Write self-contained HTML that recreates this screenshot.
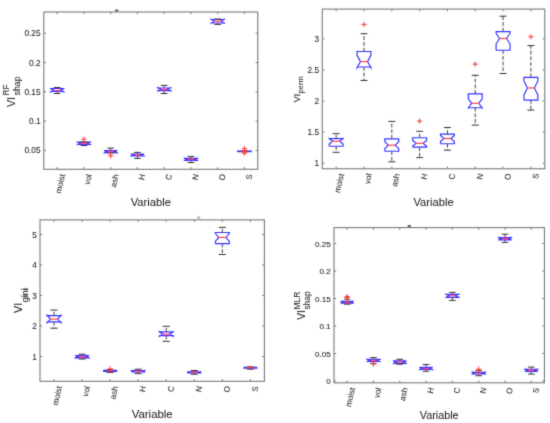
<!DOCTYPE html>
<html><head><meta charset="utf-8"><title>Variable importance boxplots</title>
<style>
html,body{margin:0;padding:0;background:#fff;}
body{width:550px;height:423px;overflow:hidden;}
svg{display:block;}
text{font-family:'Liberation Sans', Arial, sans-serif;fill:#1e1e1e;stroke:#1e1e1e;stroke-width:0.05px;}
.ax{fill:none;stroke:#7a7a7a;stroke-width:1.1;}
.tk{fill:none;stroke:#7a7a7a;stroke-width:1;}
.bx{fill:none;stroke:#3030ff;stroke-width:1.15;stroke-linejoin:miter;}
.md{stroke:#ff4040;stroke-width:1.2;}
.wh{stroke:#3a3a3a;stroke-width:0.95;stroke-dasharray:3.8 1.9;}
.cap{stroke:#333;stroke-width:1;}
.ol{fill:none;stroke:#ff3030;stroke-width:1;}
</style></head>
<body>
<svg width="550" height="423" viewBox="0 0 550 423">
<defs><filter id="bl" filterUnits="userSpaceOnUse" x="0" y="0" width="550" height="423"><feConvolveMatrix order="3" kernelMatrix="0.025 0.085 0.025 0.085 0.56 0.085 0.025 0.085 0.025" edgeMode="duplicate"/></filter></defs>
<rect width="550" height="423" fill="#fff"/>
<g filter="url(#bl)">
<line x1="57.17" y1="88.5" x2="57.17" y2="87.5" class="wh"/>
<line x1="57.17" y1="91.5" x2="57.17" y2="93.5" class="wh"/>
<polyline points="50.49,91.5 50.49,92 53.83,90.3 50.49,88.6 50.49,88.5 63.86,88.5 63.86,88.6 60.52,90.3 63.86,92 63.86,91.5 50.49,91.5" class="bx"/>
<line x1="53.83" y1="87.5" x2="60.52" y2="87.5" class="cap"/>
<line x1="53.83" y1="93.5" x2="60.52" y2="93.5" class="cap"/>
<line x1="53.83" y1="90.3" x2="60.52" y2="90.3" class="md"/>
<line x1="83.92" y1="144.5" x2="83.92" y2="145.5" class="wh"/>
<polyline points="77.24,144.5 77.24,144.6 80.58,143.3 77.24,142 77.24,142.1 90.61,142.1 90.61,142 87.27,143.3 90.61,144.6 90.61,144.5 77.24,144.5" class="bx"/>
<line x1="80.58" y1="142" x2="87.27" y2="142" class="cap"/>
<line x1="80.58" y1="145.5" x2="87.27" y2="145.5" class="cap"/>
<line x1="80.58" y1="143.3" x2="87.27" y2="143.3" class="md"/>
<path d="M81.33 139.2h5.2M83.92 136.6v5.2" class="ol"/>
<line x1="110.67" y1="150.5" x2="110.67" y2="148.1" class="wh"/>
<line x1="110.67" y1="152.7" x2="110.67" y2="153" class="wh"/>
<polyline points="103.99,152.7 103.99,152.9 107.33,151.7 103.99,150.5 103.99,150.5 117.36,150.5 117.36,150.5 114.02,151.7 117.36,152.9 117.36,152.7 103.99,152.7" class="bx"/>
<line x1="107.33" y1="148.1" x2="114.02" y2="148.1" class="cap"/>
<line x1="107.33" y1="153" x2="114.02" y2="153" class="cap"/>
<line x1="107.33" y1="151.7" x2="114.02" y2="151.7" class="md"/>
<path d="M108.08 155.7h5.2M110.67 153.1v5.2" class="ol"/>
<line x1="137.43" y1="154" x2="137.43" y2="152.4" class="wh"/>
<line x1="137.43" y1="155.9" x2="137.43" y2="158.4" class="wh"/>
<polyline points="130.74,155.9 130.74,156 134.08,155 130.74,154 130.74,154 144.11,154 144.11,154 140.77,155 144.11,156 144.11,155.9 130.74,155.9" class="bx"/>
<line x1="134.08" y1="152.4" x2="140.77" y2="152.4" class="cap"/>
<line x1="134.08" y1="158.4" x2="140.77" y2="158.4" class="cap"/>
<line x1="134.08" y1="155" x2="140.77" y2="155" class="md"/>
<line x1="164.18" y1="88" x2="164.18" y2="85.4" class="wh"/>
<line x1="164.18" y1="90.6" x2="164.18" y2="93.5" class="wh"/>
<polyline points="157.49,90.6 157.49,91.1 160.83,89.3 157.49,87.5 157.49,88 170.86,88 170.86,87.5 167.52,89.3 170.86,91.1 170.86,90.6 157.49,90.6" class="bx"/>
<line x1="160.83" y1="85.4" x2="167.52" y2="85.4" class="cap"/>
<line x1="160.83" y1="93.5" x2="167.52" y2="93.5" class="cap"/>
<line x1="160.83" y1="89.3" x2="167.52" y2="89.3" class="md"/>
<line x1="190.93" y1="158.4" x2="190.93" y2="156.4" class="wh"/>
<line x1="190.93" y1="160.4" x2="190.93" y2="162.5" class="wh"/>
<polyline points="184.24,160.4 184.24,160.5 187.58,159.4 184.24,158.3 184.24,158.4 197.61,158.4 197.61,158.3 194.27,159.4 197.61,160.5 197.61,160.4 184.24,160.4" class="bx"/>
<line x1="187.58" y1="156.4" x2="194.27" y2="156.4" class="cap"/>
<line x1="187.58" y1="162.5" x2="194.27" y2="162.5" class="cap"/>
<line x1="187.58" y1="159.4" x2="194.27" y2="159.4" class="md"/>
<line x1="217.68" y1="19.5" x2="217.68" y2="19" class="wh"/>
<line x1="217.68" y1="23" x2="217.68" y2="24.4" class="wh"/>
<polyline points="210.99,23 210.99,23.2 214.33,21.2 210.99,19.2 210.99,19.5 224.36,19.5 224.36,19.2 221.02,21.2 224.36,23.2 224.36,23 210.99,23" class="bx"/>
<line x1="214.33" y1="19" x2="221.02" y2="19" class="cap"/>
<line x1="214.33" y1="24.4" x2="221.02" y2="24.4" class="cap"/>
<line x1="214.33" y1="21.2" x2="221.02" y2="21.2" class="md"/>
<polyline points="237.74,151.6 237.74,151.7 241.08,151.3 237.74,150.9 237.74,151 251.11,151 251.11,150.9 247.77,151.3 251.11,151.7 251.11,151.6 237.74,151.6" class="bx"/>
<line x1="241.08" y1="150.8" x2="247.77" y2="150.8" class="cap"/>
<line x1="241.08" y1="151.8" x2="247.77" y2="151.8" class="cap"/>
<line x1="241.08" y1="151.3" x2="247.77" y2="151.3" class="md"/>
<path d="M241.83 148.6h5.2M244.43 146v5.2" class="ol"/>
<path d="M241.83 153.2h5.2M244.43 150.6v5.2" class="ol"/>
<rect x="43.8" y="12" width="214" height="157.3" class="ax"/>
<path d="M57.17 169.3v-2.2M57.17 12v2.2M83.92 169.3v-2.2M83.92 12v2.2M110.67 169.3v-2.2M110.67 12v2.2M137.43 169.3v-2.2M137.43 12v2.2M164.18 169.3v-2.2M164.18 12v2.2M190.93 169.3v-2.2M190.93 12v2.2M217.68 169.3v-2.2M217.68 12v2.2M244.43 169.3v-2.2M244.43 12v2.2M43.8 150.4h2.2M257.8 150.4h-2.2M43.8 121.1h2.2M257.8 121.1h-2.2M43.8 91.8h2.2M257.8 91.8h-2.2M43.8 62.5h2.2M257.8 62.5h-2.2M43.8 33.2h2.2M257.8 33.2h-2.2" class="tk"/>
<text x="40.6" y="153.4" font-size="8.3" text-anchor="end">0.05</text>
<text x="40.6" y="124.1" font-size="8.3" text-anchor="end">0.1</text>
<text x="40.6" y="94.8" font-size="8.3" text-anchor="end">0.15</text>
<text x="40.6" y="65.5" font-size="8.3" text-anchor="end">0.2</text>
<text x="40.6" y="36.2" font-size="8.3" text-anchor="end">0.25</text>
<text transform="translate(65.17 174.9) rotate(-77)" font-size="8.1" text-anchor="end" dominant-baseline="auto">moist</text>
<text transform="translate(91.92 174.9) rotate(-77)" font-size="8.1" text-anchor="end" dominant-baseline="auto">vol</text>
<text transform="translate(118.67 174.9) rotate(-77)" font-size="8.1" text-anchor="end" dominant-baseline="auto">ash</text>
<text transform="translate(145.43 174.9) rotate(-77)" font-size="8.1" text-anchor="end" dominant-baseline="auto">H</text>
<text transform="translate(172.18 174.9) rotate(-77)" font-size="8.1" text-anchor="end" dominant-baseline="auto">C</text>
<text transform="translate(198.93 174.9) rotate(-77)" font-size="8.1" text-anchor="end" dominant-baseline="auto">N</text>
<text transform="translate(225.68 174.9) rotate(-77)" font-size="8.1" text-anchor="end" dominant-baseline="auto">O</text>
<text transform="translate(252.43 174.9) rotate(-77)" font-size="8.1" text-anchor="end" dominant-baseline="auto">S</text>
<text x="150.8" y="205.8" font-size="11.2" text-anchor="middle">Variable</text>
<text transform="rotate(-90)" x="-107" y="15.3" font-size="10.5">VI</text>
<text transform="rotate(-90)" x="-95.6" y="9.4" font-size="8.3">RF</text>
<text transform="rotate(-90)" x="-95.5" y="20.3" font-size="8.8">shap</text>
<rect x="115.1" y="9.6" width="3.2" height="1.8" fill="#555"/>
<line x1="336.16" y1="138.6" x2="336.16" y2="133.7" class="wh"/>
<line x1="336.16" y1="146.2" x2="336.16" y2="152.3" class="wh"/>
<polyline points="329.2,146.2 329.2,144.1 332.68,141.3 329.2,138.5 329.2,138.6 343.11,138.6 343.11,138.5 339.64,141.3 343.11,144.1 343.11,146.2 329.2,146.2" class="bx"/>
<line x1="332.68" y1="133.7" x2="339.64" y2="133.7" class="cap"/>
<line x1="332.68" y1="152.3" x2="339.64" y2="152.3" class="cap"/>
<line x1="332.68" y1="141.3" x2="339.64" y2="141.3" class="md"/>
<line x1="363.98" y1="51.5" x2="363.98" y2="33.7" class="wh"/>
<line x1="363.98" y1="67" x2="363.98" y2="80.5" class="wh"/>
<polyline points="357.02,67 357.02,67.8 360.5,61.6 357.02,55.4 357.02,51.5 370.93,51.5 370.93,55.4 367.46,61.6 370.93,67.8 370.93,67 357.02,67" class="bx"/>
<line x1="360.5" y1="33.7" x2="367.46" y2="33.7" class="cap"/>
<line x1="360.5" y1="80.5" x2="367.46" y2="80.5" class="cap"/>
<line x1="360.5" y1="61.6" x2="367.46" y2="61.6" class="md"/>
<path d="M361.38 24.4h5.2M363.98 21.8v5.2" class="ol"/>
<line x1="391.8" y1="138.8" x2="391.8" y2="121.4" class="wh"/>
<line x1="391.8" y1="151.2" x2="391.8" y2="161.8" class="wh"/>
<polyline points="384.84,151.2 384.84,148.7 388.32,145.2 384.84,141.7 384.84,138.8 398.75,138.8 398.75,141.7 395.27,145.2 398.75,148.7 398.75,151.2 384.84,151.2" class="bx"/>
<line x1="388.32" y1="121.4" x2="395.27" y2="121.4" class="cap"/>
<line x1="388.32" y1="161.8" x2="395.27" y2="161.8" class="cap"/>
<line x1="388.32" y1="145.2" x2="395.27" y2="145.2" class="md"/>
<line x1="419.62" y1="137.7" x2="419.62" y2="131.3" class="wh"/>
<line x1="419.62" y1="147.1" x2="419.62" y2="157.6" class="wh"/>
<polyline points="412.66,147.1 412.66,146.2 416.14,143.3 412.66,140.4 412.66,137.7 426.57,137.7 426.57,140.4 423.09,143.3 426.57,146.2 426.57,147.1 412.66,147.1" class="bx"/>
<line x1="416.14" y1="131.3" x2="423.09" y2="131.3" class="cap"/>
<line x1="416.14" y1="157.6" x2="423.09" y2="157.6" class="cap"/>
<line x1="416.14" y1="143.3" x2="423.09" y2="143.3" class="md"/>
<path d="M417.02 121.1h5.2M419.62 118.5v5.2" class="ol"/>
<line x1="447.43" y1="134.1" x2="447.43" y2="127.5" class="wh"/>
<line x1="447.43" y1="143.7" x2="447.43" y2="150.2" class="wh"/>
<polyline points="440.48,143.7 440.48,141.5 443.96,138.5 440.48,135.5 440.48,134.1 454.39,134.1 454.39,135.5 450.91,138.5 454.39,141.5 454.39,143.7 440.48,143.7" class="bx"/>
<line x1="443.96" y1="127.5" x2="450.91" y2="127.5" class="cap"/>
<line x1="443.96" y1="150.2" x2="450.91" y2="150.2" class="cap"/>
<line x1="443.96" y1="138.5" x2="450.91" y2="138.5" class="md"/>
<line x1="475.25" y1="93.9" x2="475.25" y2="75.3" class="wh"/>
<line x1="475.25" y1="107.7" x2="475.25" y2="125.1" class="wh"/>
<polyline points="468.3,107.7 468.3,107.8 471.78,103.3 468.3,98.8 468.3,93.9 482.21,93.9 482.21,98.8 478.73,103.3 482.21,107.8 482.21,107.7 468.3,107.7" class="bx"/>
<line x1="471.78" y1="75.3" x2="478.73" y2="75.3" class="cap"/>
<line x1="471.78" y1="125.1" x2="478.73" y2="125.1" class="cap"/>
<line x1="471.78" y1="103.3" x2="478.73" y2="103.3" class="md"/>
<path d="M472.65 64.1h5.2M475.25 61.5v5.2" class="ol"/>
<line x1="503.07" y1="31.6" x2="503.07" y2="16.2" class="wh"/>
<line x1="503.07" y1="50.2" x2="503.07" y2="73.5" class="wh"/>
<polyline points="496.12,50.2 496.12,43.8 499.59,38.5 496.12,33.2 496.12,31.6 510.03,31.6 510.03,33.2 506.55,38.5 510.03,43.8 510.03,50.2 496.12,50.2" class="bx"/>
<line x1="499.59" y1="16.2" x2="506.55" y2="16.2" class="cap"/>
<line x1="499.59" y1="73.5" x2="506.55" y2="73.5" class="cap"/>
<line x1="499.59" y1="38.5" x2="506.55" y2="38.5" class="md"/>
<line x1="530.89" y1="77.3" x2="530.89" y2="45.6" class="wh"/>
<line x1="530.89" y1="100.1" x2="530.89" y2="110.1" class="wh"/>
<polyline points="523.94,100.1 523.94,94.9 527.41,87.9 523.94,80.9 523.94,77.3 537.85,77.3 537.85,80.9 534.37,87.9 537.85,94.9 537.85,100.1 523.94,100.1" class="bx"/>
<line x1="527.41" y1="45.6" x2="534.37" y2="45.6" class="cap"/>
<line x1="527.41" y1="110.1" x2="534.37" y2="110.1" class="cap"/>
<line x1="527.41" y1="87.9" x2="534.37" y2="87.9" class="md"/>
<path d="M528.29 36.8h5.2M530.89 34.2v5.2" class="ol"/>
<rect x="322.25" y="9.1" width="222.55" height="159.65" class="ax"/>
<path d="M336.16 168.75v-2.2M336.16 9.1v2.2M363.98 168.75v-2.2M363.98 9.1v2.2M391.8 168.75v-2.2M391.8 9.1v2.2M419.62 168.75v-2.2M419.62 9.1v2.2M447.43 168.75v-2.2M447.43 9.1v2.2M475.25 168.75v-2.2M475.25 9.1v2.2M503.07 168.75v-2.2M503.07 9.1v2.2M530.89 168.75v-2.2M530.89 9.1v2.2M322.25 163.3h2.2M544.8 163.3h-2.2M322.25 132.2h2.2M544.8 132.2h-2.2M322.25 101.1h2.2M544.8 101.1h-2.2M322.25 70h2.2M544.8 70h-2.2M322.25 38.9h2.2M544.8 38.9h-2.2" class="tk"/>
<text x="319.05" y="166.3" font-size="8.3" text-anchor="end">1</text>
<text x="319.05" y="135.2" font-size="8.3" text-anchor="end">1.5</text>
<text x="319.05" y="104.1" font-size="8.3" text-anchor="end">2</text>
<text x="319.05" y="73" font-size="8.3" text-anchor="end">2.5</text>
<text x="319.05" y="41.9" font-size="8.3" text-anchor="end">3</text>
<text transform="translate(344.16 174.35) rotate(-77)" font-size="8.1" text-anchor="end" dominant-baseline="auto">moist</text>
<text transform="translate(371.98 174.35) rotate(-77)" font-size="8.1" text-anchor="end" dominant-baseline="auto">vol</text>
<text transform="translate(399.8 174.35) rotate(-77)" font-size="8.1" text-anchor="end" dominant-baseline="auto">ash</text>
<text transform="translate(427.62 174.35) rotate(-77)" font-size="8.1" text-anchor="end" dominant-baseline="auto">H</text>
<text transform="translate(455.43 174.35) rotate(-77)" font-size="8.1" text-anchor="end" dominant-baseline="auto">C</text>
<text transform="translate(483.25 174.35) rotate(-77)" font-size="8.1" text-anchor="end" dominant-baseline="auto">N</text>
<text transform="translate(511.07 174.35) rotate(-77)" font-size="8.1" text-anchor="end" dominant-baseline="auto">O</text>
<text transform="translate(538.89 174.35) rotate(-77)" font-size="8.1" text-anchor="end" dominant-baseline="auto">S</text>
<text x="433.52" y="205.8" font-size="11.2" text-anchor="middle">Variable</text>
<text transform="rotate(-90)" x="-102.4" y="299.7" font-size="9.3">VI</text>
<text transform="rotate(-90)" x="-93.4" y="303.3" font-size="7.5">perm</text>
<line x1="54.02" y1="315.6" x2="54.02" y2="310.1" class="wh"/>
<line x1="54.02" y1="321.8" x2="54.02" y2="328.2" class="wh"/>
<polyline points="47.01,321.8 47.01,322.9 50.52,319.1 47.01,315.3 47.01,315.6 61.04,315.6 61.04,315.3 57.53,319.1 61.04,322.9 61.04,321.8 47.01,321.8" class="bx"/>
<line x1="50.52" y1="310.1" x2="57.53" y2="310.1" class="cap"/>
<line x1="50.52" y1="328.2" x2="57.53" y2="328.2" class="cap"/>
<line x1="50.52" y1="319.1" x2="57.53" y2="319.1" class="md"/>
<line x1="82.07" y1="355.5" x2="82.07" y2="354.2" class="wh"/>
<line x1="82.07" y1="357.8" x2="82.07" y2="359" class="wh"/>
<polyline points="75.06,357.8 75.06,357.9 78.57,356.7 75.06,355.5 75.06,355.5 89.09,355.5 89.09,355.5 85.58,356.7 89.09,357.9 89.09,357.8 75.06,357.8" class="bx"/>
<line x1="78.57" y1="354.2" x2="85.58" y2="354.2" class="cap"/>
<line x1="78.57" y1="359" x2="85.58" y2="359" class="cap"/>
<line x1="78.57" y1="356.7" x2="85.58" y2="356.7" class="md"/>
<line x1="110.12" y1="370.3" x2="110.12" y2="369.8" class="wh"/>
<line x1="110.12" y1="371.3" x2="110.12" y2="372.4" class="wh"/>
<polyline points="103.11,371.3 103.11,371.3 106.62,370.8 103.11,370.3 103.11,370.3 117.14,370.3 117.14,370.3 113.63,370.8 117.14,371.3 117.14,371.3 103.11,371.3" class="bx"/>
<line x1="106.62" y1="369.8" x2="113.63" y2="369.8" class="cap"/>
<line x1="106.62" y1="372.4" x2="113.63" y2="372.4" class="cap"/>
<line x1="106.62" y1="370.8" x2="113.63" y2="370.8" class="md"/>
<path d="M107.53 368.9h5.2M110.12 366.3v5.2" class="ol"/>
<line x1="138.17" y1="370.5" x2="138.17" y2="369.2" class="wh"/>
<line x1="138.17" y1="372" x2="138.17" y2="373.6" class="wh"/>
<polyline points="131.16,372 131.16,372 134.67,371.3 131.16,370.6 131.16,370.5 145.19,370.5 145.19,370.6 141.68,371.3 145.19,372 145.19,372 131.16,372" class="bx"/>
<line x1="134.67" y1="369.2" x2="141.68" y2="369.2" class="cap"/>
<line x1="134.67" y1="373.6" x2="141.68" y2="373.6" class="cap"/>
<line x1="134.67" y1="371.3" x2="141.68" y2="371.3" class="md"/>
<line x1="166.22" y1="331.8" x2="166.22" y2="326.3" class="wh"/>
<line x1="166.22" y1="335.6" x2="166.22" y2="341.3" class="wh"/>
<polyline points="159.21,335.6 159.21,336.5 162.72,334.1 159.21,331.7 159.21,331.8 173.24,331.8 173.24,331.7 169.73,334.1 173.24,336.5 173.24,335.6 159.21,335.6" class="bx"/>
<line x1="162.72" y1="326.3" x2="169.73" y2="326.3" class="cap"/>
<line x1="162.72" y1="341.3" x2="169.73" y2="341.3" class="cap"/>
<line x1="162.72" y1="334.1" x2="169.73" y2="334.1" class="md"/>
<line x1="194.27" y1="371.8" x2="194.27" y2="370.5" class="wh"/>
<line x1="194.27" y1="372.8" x2="194.27" y2="374.2" class="wh"/>
<polyline points="187.26,372.8 187.26,372.8 190.77,372.3 187.26,371.8 187.26,371.8 201.29,371.8 201.29,371.8 197.78,372.3 201.29,372.8 201.29,372.8 187.26,372.8" class="bx"/>
<line x1="190.77" y1="370.5" x2="197.78" y2="370.5" class="cap"/>
<line x1="190.77" y1="374.2" x2="197.78" y2="374.2" class="cap"/>
<line x1="190.77" y1="372.3" x2="197.78" y2="372.3" class="md"/>
<line x1="222.32" y1="232.5" x2="222.32" y2="227.4" class="wh"/>
<line x1="222.32" y1="243.6" x2="222.32" y2="254.5" class="wh"/>
<polyline points="215.31,243.6 215.31,241.4 218.82,237.4 215.31,233.4 215.31,232.5 229.34,232.5 229.34,233.4 225.83,237.4 229.34,241.4 229.34,243.6 215.31,243.6" class="bx"/>
<line x1="218.82" y1="227.4" x2="225.83" y2="227.4" class="cap"/>
<line x1="218.82" y1="254.5" x2="225.83" y2="254.5" class="cap"/>
<line x1="218.82" y1="237.4" x2="225.83" y2="237.4" class="md"/>
<line x1="250.37" y1="367.3" x2="250.37" y2="366.8" class="wh"/>
<line x1="250.37" y1="368.1" x2="250.37" y2="369.2" class="wh"/>
<polyline points="243.36,368.1 243.36,368.1 246.87,367.7 243.36,367.3 243.36,367.3 257.39,367.3 257.39,367.3 253.88,367.7 257.39,368.1 257.39,368.1 243.36,368.1" class="bx"/>
<line x1="246.87" y1="366.8" x2="253.88" y2="366.8" class="cap"/>
<line x1="246.87" y1="369.2" x2="253.88" y2="369.2" class="cap"/>
<line x1="246.87" y1="367.7" x2="253.88" y2="367.7" class="md"/>
<rect x="40" y="219.9" width="224.4" height="161.4" class="ax"/>
<path d="M54.02 381.3v-2.2M54.02 219.9v2.2M82.07 381.3v-2.2M82.07 219.9v2.2M110.12 381.3v-2.2M110.12 219.9v2.2M138.17 381.3v-2.2M138.17 219.9v2.2M166.22 381.3v-2.2M166.22 219.9v2.2M194.27 381.3v-2.2M194.27 219.9v2.2M222.32 381.3v-2.2M222.32 219.9v2.2M250.37 381.3v-2.2M250.37 219.9v2.2M40 356.5h2.2M264.4 356.5h-2.2M40 326h2.2M264.4 326h-2.2M40 295.5h2.2M264.4 295.5h-2.2M40 265h2.2M264.4 265h-2.2M40 234.5h2.2M264.4 234.5h-2.2" class="tk"/>
<text x="36.8" y="359.5" font-size="8.3" text-anchor="end">1</text>
<text x="36.8" y="329" font-size="8.3" text-anchor="end">2</text>
<text x="36.8" y="298.5" font-size="8.3" text-anchor="end">3</text>
<text x="36.8" y="268" font-size="8.3" text-anchor="end">4</text>
<text x="36.8" y="237.5" font-size="8.3" text-anchor="end">5</text>
<text transform="translate(62.02 386.9) rotate(-77)" font-size="8.1" text-anchor="end" dominant-baseline="auto">moist</text>
<text transform="translate(90.07 386.9) rotate(-77)" font-size="8.1" text-anchor="end" dominant-baseline="auto">vol</text>
<text transform="translate(118.12 386.9) rotate(-77)" font-size="8.1" text-anchor="end" dominant-baseline="auto">ash</text>
<text transform="translate(146.17 386.9) rotate(-77)" font-size="8.1" text-anchor="end" dominant-baseline="auto">H</text>
<text transform="translate(174.22 386.9) rotate(-77)" font-size="8.1" text-anchor="end" dominant-baseline="auto">C</text>
<text transform="translate(202.27 386.9) rotate(-77)" font-size="8.1" text-anchor="end" dominant-baseline="auto">N</text>
<text transform="translate(230.32 386.9) rotate(-77)" font-size="8.1" text-anchor="end" dominant-baseline="auto">O</text>
<text transform="translate(258.38 386.9) rotate(-77)" font-size="8.1" text-anchor="end" dominant-baseline="auto">S</text>
<text x="152.2" y="418.3" font-size="11.4" text-anchor="middle">Variable</text>
<text transform="rotate(-90)" x="-313.1" y="22" font-size="10.9">VI</text>
<text transform="rotate(-90)" x="-302.2" y="27.7" font-size="9.0">gini</text>
<rect x="197" y="216.7" width="3.2" height="1.8" fill="#aaa"/>
<line x1="347.15" y1="301.3" x2="347.15" y2="299.2" class="wh"/>
<line x1="347.15" y1="303.1" x2="347.15" y2="304.2" class="wh"/>
<polyline points="340.58,303.1 340.58,303.1 343.86,302.2 340.58,301.3 340.58,301.3 353.73,301.3 353.73,301.3 350.44,302.2 353.73,303.1 353.73,303.1 340.58,303.1" class="bx"/>
<line x1="343.86" y1="299.2" x2="350.44" y2="299.2" class="cap"/>
<line x1="343.86" y1="304.2" x2="350.44" y2="304.2" class="cap"/>
<line x1="343.86" y1="302.2" x2="350.44" y2="302.2" class="md"/>
<path d="M344.55 296.6h5.2M347.15 294v5.2" class="ol"/>
<path d="M344.55 297.6h5.2M347.15 295v5.2" class="ol"/>
<line x1="373.46" y1="359.3" x2="373.46" y2="357.6" class="wh"/>
<line x1="373.46" y1="361.4" x2="373.46" y2="363.3" class="wh"/>
<polyline points="366.88,361.4 366.88,361.35 370.17,360.3 366.88,359.25 366.88,359.3 380.04,359.3 380.04,359.25 376.75,360.3 380.04,361.35 380.04,361.4 366.88,361.4" class="bx"/>
<line x1="370.17" y1="357.6" x2="376.75" y2="357.6" class="cap"/>
<line x1="370.17" y1="363.3" x2="376.75" y2="363.3" class="cap"/>
<line x1="370.17" y1="360.3" x2="376.75" y2="360.3" class="md"/>
<path d="M370.86 364h5.2M373.46 361.4v5.2" class="ol"/>
<line x1="399.77" y1="360.9" x2="399.77" y2="359.3" class="wh"/>
<line x1="399.77" y1="363.3" x2="399.77" y2="364.2" class="wh"/>
<polyline points="393.19,363.3 393.19,363.5 396.48,362.2 393.19,360.9 393.19,360.9 406.34,360.9 406.34,360.9 403.05,362.2 406.34,363.5 406.34,363.3 393.19,363.3" class="bx"/>
<line x1="396.48" y1="359.3" x2="403.05" y2="359.3" class="cap"/>
<line x1="396.48" y1="364.2" x2="403.05" y2="364.2" class="cap"/>
<line x1="396.48" y1="362.2" x2="403.05" y2="362.2" class="md"/>
<line x1="426.07" y1="367.4" x2="426.07" y2="364.5" class="wh"/>
<line x1="426.07" y1="369.5" x2="426.07" y2="371.3" class="wh"/>
<polyline points="419.5,369.5 419.5,369.6 422.78,368.5 419.5,367.4 419.5,367.4 432.65,367.4 432.65,367.4 429.36,368.5 432.65,369.6 432.65,369.5 419.5,369.5" class="bx"/>
<line x1="422.78" y1="364.5" x2="429.36" y2="364.5" class="cap"/>
<line x1="422.78" y1="371.3" x2="429.36" y2="371.3" class="cap"/>
<line x1="422.78" y1="368.5" x2="429.36" y2="368.5" class="md"/>
<line x1="452.38" y1="294.3" x2="452.38" y2="292.4" class="wh"/>
<line x1="452.38" y1="297.4" x2="452.38" y2="300.4" class="wh"/>
<polyline points="445.8,297.4 445.8,297.5 449.09,295.8 445.8,294.1 445.8,294.3 458.95,294.3 458.95,294.1 455.67,295.8 458.95,297.5 458.95,297.4 445.8,297.4" class="bx"/>
<line x1="449.09" y1="292.4" x2="455.67" y2="292.4" class="cap"/>
<line x1="449.09" y1="300.4" x2="455.67" y2="300.4" class="cap"/>
<line x1="449.09" y1="295.8" x2="455.67" y2="295.8" class="md"/>
<line x1="478.68" y1="372.3" x2="478.68" y2="370.6" class="wh"/>
<line x1="478.68" y1="374" x2="478.68" y2="375.7" class="wh"/>
<polyline points="472.11,374 472.11,374.1 475.4,373.1 472.11,372.1 472.11,372.3 485.26,372.3 485.26,372.1 481.97,373.1 485.26,374.1 485.26,374 472.11,374" class="bx"/>
<line x1="475.4" y1="370.6" x2="481.97" y2="370.6" class="cap"/>
<line x1="475.4" y1="375.7" x2="481.97" y2="375.7" class="cap"/>
<line x1="475.4" y1="373.1" x2="481.97" y2="373.1" class="md"/>
<path d="M476.08 369.2h5.2M478.68 366.6v5.2" class="ol"/>
<line x1="504.99" y1="237.5" x2="504.99" y2="234.2" class="wh"/>
<line x1="504.99" y1="239.8" x2="504.99" y2="242.4" class="wh"/>
<polyline points="498.41,239.8 498.41,239.8 501.7,238.6 498.41,237.4 498.41,237.5 511.57,237.5 511.57,237.4 508.28,238.6 511.57,239.8 511.57,239.8 498.41,239.8" class="bx"/>
<line x1="501.7" y1="234.2" x2="508.28" y2="234.2" class="cap"/>
<line x1="501.7" y1="242.4" x2="508.28" y2="242.4" class="cap"/>
<line x1="501.7" y1="238.6" x2="508.28" y2="238.6" class="md"/>
<line x1="531.3" y1="369.2" x2="531.3" y2="367.1" class="wh"/>
<line x1="531.3" y1="371.3" x2="531.3" y2="374" class="wh"/>
<polyline points="524.72,371.3 524.72,371.3 528.01,370.2 524.72,369.1 524.72,369.2 537.87,369.2 537.87,369.1 534.59,370.2 537.87,371.3 537.87,371.3 524.72,371.3" class="bx"/>
<line x1="528.01" y1="367.1" x2="534.59" y2="367.1" class="cap"/>
<line x1="528.01" y1="374" x2="534.59" y2="374" class="cap"/>
<line x1="528.01" y1="370.2" x2="534.59" y2="370.2" class="md"/>
<rect x="334" y="227.6" width="210.45" height="155.2" class="ax"/>
<path d="M347.15 382.8v-2.2M347.15 227.6v2.2M373.46 382.8v-2.2M373.46 227.6v2.2M399.77 382.8v-2.2M399.77 227.6v2.2M426.07 382.8v-2.2M426.07 227.6v2.2M452.38 382.8v-2.2M452.38 227.6v2.2M478.68 382.8v-2.2M478.68 227.6v2.2M504.99 382.8v-2.2M504.99 227.6v2.2M531.3 382.8v-2.2M531.3 227.6v2.2M334 381h2.2M544.45 381h-2.2M334 353.5h2.2M544.45 353.5h-2.2M334 326h2.2M544.45 326h-2.2M334 298.5h2.2M544.45 298.5h-2.2M334 271h2.2M544.45 271h-2.2M334 243.5h2.2M544.45 243.5h-2.2" class="tk"/>
<text x="330.8" y="384" font-size="8.1" text-anchor="end">0</text>
<text x="330.8" y="356.5" font-size="8.1" text-anchor="end">0.05</text>
<text x="330.8" y="329" font-size="8.1" text-anchor="end">0.1</text>
<text x="330.8" y="301.5" font-size="8.1" text-anchor="end">0.15</text>
<text x="330.8" y="274" font-size="8.1" text-anchor="end">0.2</text>
<text x="330.8" y="246.5" font-size="8.1" text-anchor="end">0.25</text>
<text transform="translate(355.15 388.4) rotate(-77)" font-size="8.1" text-anchor="end" dominant-baseline="auto">moist</text>
<text transform="translate(381.46 388.4) rotate(-77)" font-size="8.1" text-anchor="end" dominant-baseline="auto">vol</text>
<text transform="translate(407.77 388.4) rotate(-77)" font-size="8.1" text-anchor="end" dominant-baseline="auto">ash</text>
<text transform="translate(434.07 388.4) rotate(-77)" font-size="8.1" text-anchor="end" dominant-baseline="auto">H</text>
<text transform="translate(460.38 388.4) rotate(-77)" font-size="8.1" text-anchor="end" dominant-baseline="auto">C</text>
<text transform="translate(486.68 388.4) rotate(-77)" font-size="8.1" text-anchor="end" dominant-baseline="auto">N</text>
<text transform="translate(512.99 388.4) rotate(-77)" font-size="8.1" text-anchor="end" dominant-baseline="auto">O</text>
<text transform="translate(539.3 388.4) rotate(-77)" font-size="8.1" text-anchor="end" dominant-baseline="auto">S</text>
<text x="439.23" y="418.8" font-size="10.8" text-anchor="middle">Variable</text>
<text transform="rotate(-90)" x="-319.8" y="305.1" font-size="10.2">VI</text>
<text transform="rotate(-90)" x="-309.6" y="300.4" font-size="8.5">MLR</text>
<text transform="rotate(-90)" x="-309.6" y="310" font-size="8.4">shap</text>
<rect x="407.7" y="225.1" width="3.2" height="1.8" fill="#555"/>
</g>
</svg>
</body></html>
